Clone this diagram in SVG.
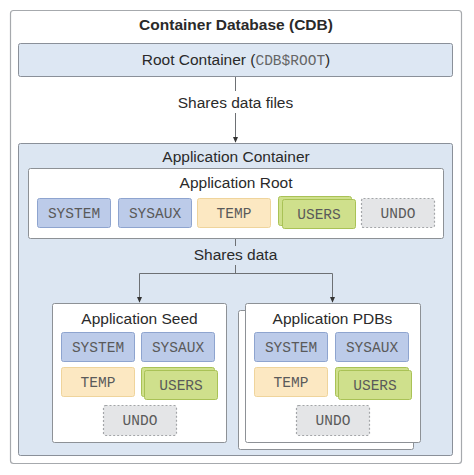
<svg xmlns="http://www.w3.org/2000/svg" width="474" height="475" viewBox="0 0 474 475">
<defs>
<style>
.lbl{font-family:"Liberation Sans",Arial,sans-serif;fill:#2a2a2a;text-anchor:middle;font-size:15.5px}
.ts{font-family:"Liberation Mono","Courier New",monospace;font-size:14.5px;fill:#5a5a5a;text-anchor:middle}
.blue{fill:#bccbe9;stroke:#8ea4cf;stroke-width:1}
.temp{fill:#fce8c2;stroke:#efd49c;stroke-width:1}
.users{fill:#cfe08c;stroke:#a9c256;stroke-width:1}
.undo{fill:#e4e5e7;stroke:#a3a5a8;stroke-width:1.2;stroke-dasharray:2 2}
.card{fill:#fff;stroke:#8d9196;stroke-width:1}
.line{fill:none;stroke:#6d7074;stroke-width:1}
</style>
<marker id="ah" viewBox="0 0 8 8" refX="7" refY="4" markerWidth="6" markerHeight="6" orient="auto">
<path d="M0,0.5 L8,4 L0,7.5 z" fill="#333"/>
</marker>
</defs>
<rect width="474" height="475" fill="#fff"/>
<g id="cdb">
<rect x="10.5" y="10.5" width="451" height="453" rx="3" fill="#fff" stroke="#a6a9ad" stroke-width="1.2"/>
<text class="lbl" x="236" y="30" font-weight="bold">Container Database (CDB)</text>
</g>
<g id="root">
<rect x="18.5" y="43.5" width="434" height="33" rx="2" fill="#dde7f3" stroke="#8a9099"/>
<text class="lbl" x="236" y="65">Root Container (<tspan font-family="Liberation Mono,monospace" font-size="14.5" fill="#666">CDB$ROOT</tspan>)</text>
</g>
<g id="appcontainer">
<rect x="18.5" y="143.5" width="434" height="312" rx="2" fill="#dce6f2" stroke="#8a9099"/>
<text class="lbl" x="236" y="162">Application Container</text>
</g>
<g id="approot">
<rect class="card" x="28.5" y="168.5" width="415" height="70" rx="2"/>
<text class="lbl" x="236" y="188">Application Root</text>
<rect class="blue" x="37.5" y="198.5" width="73" height="29" rx="2"/>
<text class="ts" x="74" y="218">SYSTEM</text>
<rect class="blue" x="118.5" y="198.5" width="73" height="29" rx="2"/>
<text class="ts" x="155" y="218">SYSAUX</text>
<rect class="temp" x="197.5" y="198.5" width="73" height="29" rx="2"/>
<text class="ts" x="234" y="218">TEMP</text>
<rect class="users" x="278.5" y="196.5" width="73" height="29" rx="2"/>
<rect class="users" x="282.5" y="199.5" width="73" height="29" rx="2"/>
<text class="ts" x="319" y="219" fill="#5c6b2c">USERS</text>
<rect class="undo" x="361.5" y="198.5" width="73" height="29" rx="2"/>
<text class="ts" x="398" y="218">UNDO</text>
</g>
<g id="appseed">
<rect class="card" x="52.5" y="303.5" width="174" height="139" rx="2"/>
<text class="lbl" x="139.5" y="324">Application Seed</text>
<rect class="blue" x="61.5" y="332.5" width="73" height="29" rx="2"/>
<text class="ts" x="98" y="352">SYSTEM</text>
<rect class="blue" x="141.5" y="332.5" width="73" height="29" rx="2"/>
<text class="ts" x="178" y="352">SYSAUX</text>
<rect class="temp" x="61.5" y="367.5" width="73" height="29" rx="2"/>
<text class="ts" x="98" y="387">TEMP</text>
<rect class="users" x="141.5" y="367.5" width="73" height="29" rx="2"/>
<rect class="users" x="144.5" y="370.5" width="73" height="29" rx="2"/>
<text class="ts" x="181" y="390" fill="#5c6b2c">USERS</text>
<rect class="undo" x="103.5" y="405.5" width="73" height="30" rx="2"/>
<text class="ts" x="140" y="425">UNDO</text>
</g>
<g id="apppdbs">
<rect class="card" x="238.5" y="310.5" width="175" height="139" rx="2"/>
<rect class="card" x="245.5" y="303.5" width="175" height="139" rx="2"/>
<text class="lbl" x="332.5" y="324">Application PDBs</text>
<rect class="blue" x="254.5" y="332.5" width="73" height="29" rx="2"/>
<text class="ts" x="291" y="352">SYSTEM</text>
<rect class="blue" x="335.5" y="332.5" width="73" height="29" rx="2"/>
<text class="ts" x="372" y="352">SYSAUX</text>
<rect class="temp" x="254.5" y="367.5" width="73" height="29" rx="2"/>
<text class="ts" x="291" y="387">TEMP</text>
<rect class="users" x="335.5" y="367.5" width="73" height="29" rx="2"/>
<rect class="users" x="338.5" y="370.5" width="73" height="29" rx="2"/>
<text class="ts" x="375" y="390" fill="#5c6b2c">USERS</text>
<rect class="undo" x="296.5" y="405.5" width="73" height="30" rx="2"/>
<text class="ts" x="333" y="425">UNDO</text>
</g>
<g id="connectors">
<path class="line" d="M235.5,77 V91"/>
<path class="line" d="M235.5,113 V142" marker-end="url(#ah)"/>
<text class="lbl" x="235.5" y="108">Shares data files</text>
<path class="line" d="M235.5,239 V246"/>
<text class="lbl" x="235.5" y="260">Shares data</text>
<path class="line" d="M235.5,265 V273.5 M139.5,273.5 H332.5"/>
<path class="line" d="M139.5,273.5 V302" marker-end="url(#ah)"/>
<path class="line" d="M332.5,273.5 V302" marker-end="url(#ah)"/>
</g>
</svg>
